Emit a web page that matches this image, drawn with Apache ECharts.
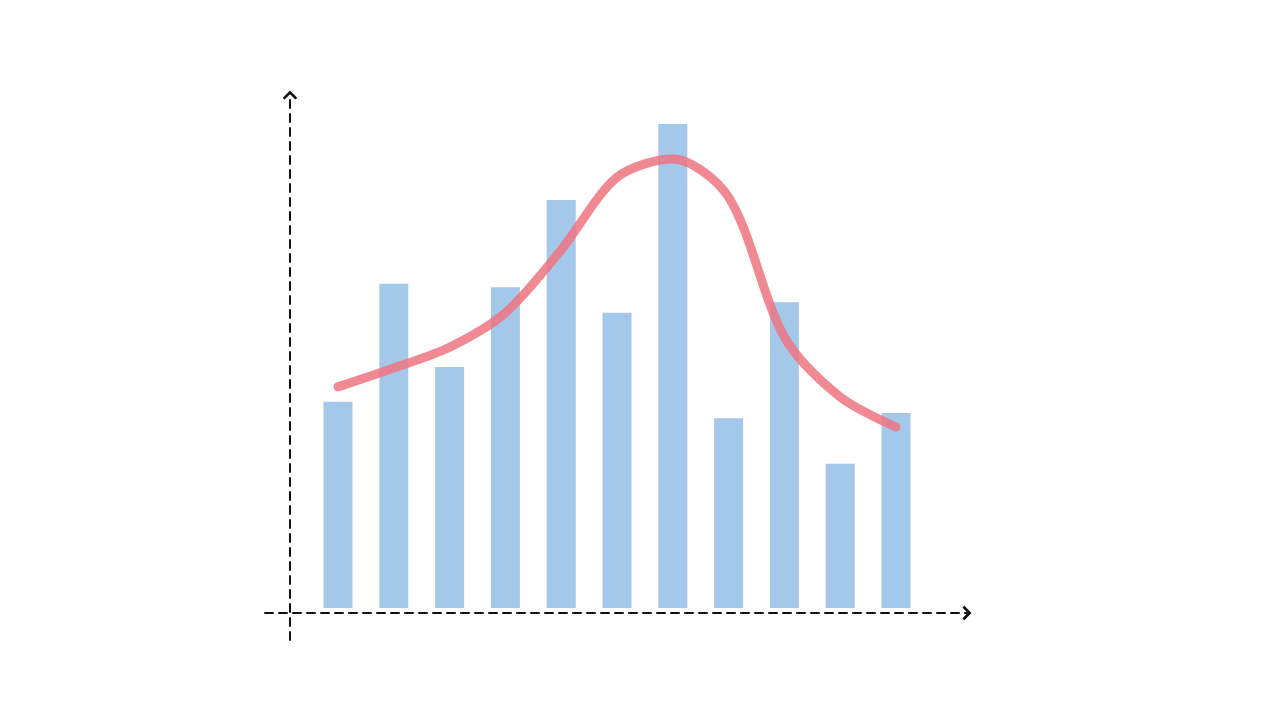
<!DOCTYPE html>
<html>
<head>
<meta charset="utf-8">
<script src="https://cdn.jsdelivr.net/npm/echarts@6/dist/echarts.min.js"></script>
<style>html,body{margin:0;padding:0;background:#fff}#c{width:1280px;height:720px}</style>
</head>
<body>
<div id="c"></div>
<script>
var positions = [1, 2, 3, 4, 5, 6, 7, 8, 9, 10, 11];
var barValues = [42.6, 67, 49.8, 66.3, 84.3, 61, 100, 39.2, 63.2, 29.8, 40.3];
var lineValues = [45.7, 49.6, 53.9, 61, 74, 89, 92.8, 84.9, 56, 43.6, 37.4];

var chevron = 'path://M0,10 L10,0 L20,10 L17.2,12.2 L10,5 L2.8,12.2 Z';
var chart = echarts.init(document.getElementById('c'));
chart.setOption({
  backgroundColor: '#ffffff',
  animation: false,
  grid: { left: 265, right: 313, top: 95, bottom: 80 },
  xAxis: {
    type: 'value', min: -0.308, max: 12.272,
    offset: -27,
    axisLine: { show: true, onZero: false, symbol: ['none', chevron], symbolSize: [15, 9],
      lineStyle: { color: '#111', width: 2, type: [8, 6] } },
    axisTick: { show: false }, axisLabel: { show: false }, splitLine: { show: false }
  },
  yAxis: {
    type: 'value', min: -6.6, max: 106,
    offset: -25,
    axisLine: { show: true, onZero: false, symbol: ['none', chevron], symbolSize: [15, 9],
      lineStyle: { color: '#111', width: 2, type: [8, 6] } },
    axisTick: { show: false }, axisLabel: { show: false }, splitLine: { show: false }
  },
  series: [
    {
      type: 'bar',
      data: positions.map(function (p, i) { return [p, barValues[i]]; }),
      barWidth: 29,
      itemStyle: { color: '#a3c8ea' },
      z: 2
    },
    {
      type: 'line',
      data: positions.map(function (p, i) { return [p, lineValues[i]]; }),
      smooth: 0.3,
      showSymbol: false,
      lineStyle: { color: '#ef7480', width: 9, opacity: 0.85, cap: 'round', join: 'round' },
      z: 3
    }
  ]
});
</script>
</body>
</html>
